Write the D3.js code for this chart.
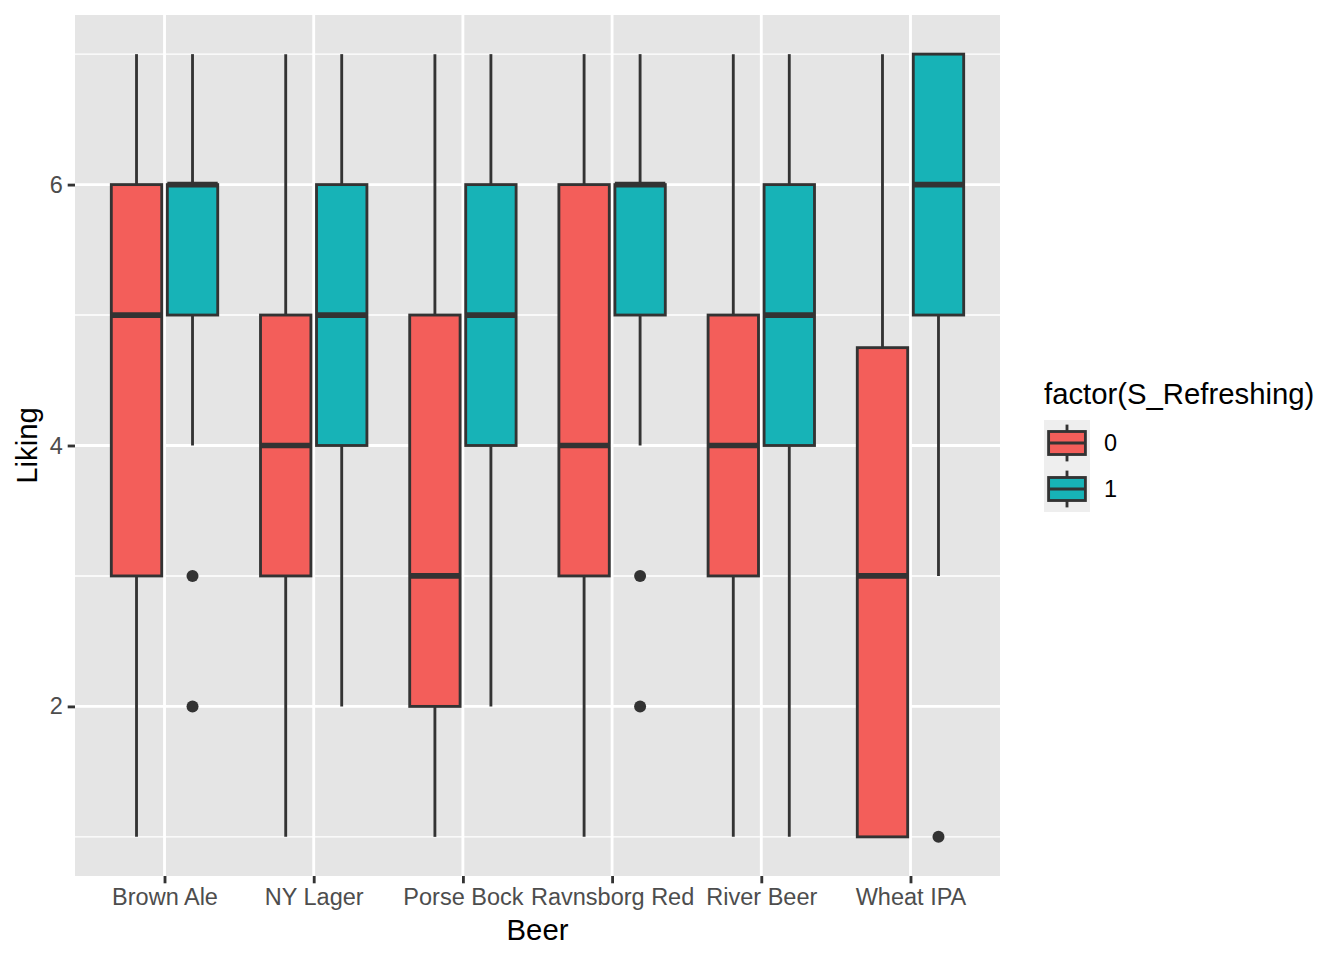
<!DOCTYPE html>
<html lang="en">
<head>
<meta charset="UTF-8">
<title>Liking by Beer</title>
<script src="https://cdn.jsdelivr.net/npm/d3@7"></script>
<style>
  body { margin: 0; background: #fff; }
  text { font-family: "Liberation Sans", Arial, sans-serif; }
</style>
</head>
<body>
<script>
// categories and groups
const beers = ["Brown Ale", "NY Lager", "Porse Bock", "Ravnsborg Red", "River Beer", "Wheat IPA"];
const groups = ["0", "1"];

// box stats per beer, group 0
const lower0 = [1, 1, 1, 1, 1, 1];
const q1_0 = [3, 3, 2, 3, 3, 1];
const med0 = [5, 4, 3, 4, 4, 3];
const q3_0 = [6, 5, 5, 6, 5, 4.75];
const upper0 = [7, 7, 7, 7, 7, 7];

// box stats per beer, group 1
const lower1 = [4, 2, 2, 4, 1, 3];
const q1_1 = [5, 4, 4, 5, 4, 5];
const med1 = [6, 5, 5, 6, 5, 6];
const q3_1 = [6, 6, 6, 6, 6, 7];
const upper1 = [7, 7, 7, 7, 7, 7];

// outliers
const outBeer = ["Brown Ale", "Brown Ale", "Ravnsborg Red", "Ravnsborg Red", "Wheat IPA"];
const outGroup = ["1", "1", "1", "1", "1"];
const outValue = [3, 2, 3, 2, 1];

const yMajor = [2, 4, 6];
const yMinor = [1, 3, 5, 7];
const fills = {"0": "#F35E5A", "1": "#17B3B7"};

// build box rows from the arrays
let boxes = [];
beers.forEach(function (b, i) {
    boxes.push({beer: b, g: "0", lo: lower0[i], q1: q1_0[i], med: med0[i], q3: q3_0[i], hi: upper0[i]});
    boxes.push({beer: b, g: "1", lo: lower1[i], q1: q1_1[i], med: med1[i], q3: q3_1[i], hi: upper1[i]});
});
let outliers = outValue.map(function (v, i) { return {beer: outBeer[i], g: outGroup[i], v: v}; });

const W = 1344, H = 960;
const pl = 75, pr = 1000, pt = 15, pb = 876;
const lw = 2.85;

let svg = d3.select('body').append('svg')
    .attr('width', W).attr('height', H);

let x = d3.scalePoint().domain(beers).range([pl, pr]).padding(0.6);
let xg = d3.scaleBand().domain(groups).range([-56, 56]);
let y = d3.scaleLinear().domain([0.7, 7.3]).range([pb, pt]);
let bw = xg.bandwidth() * 0.9;
let cx = function (d) { return x(d.beer) + xg(d.g) + xg.bandwidth() / 2; };

// panel
svg.append('rect')
    .attr('x', pl).attr('y', pt)
    .attr('width', pr - pl).attr('height', pb - pt)
    .attr('fill', '#E5E5E5');

// grid
svg.selectAll('line.minor').data(yMinor).enter().append('line')
    .attr('x1', pl).attr('x2', pr)
    .attr('y1', function (d) { return y(d); }).attr('y2', function (d) { return y(d); })
    .attr('stroke', '#fff').attr('stroke-width', lw / 2);
svg.selectAll('line.major').data(yMajor).enter().append('line')
    .attr('x1', pl).attr('x2', pr)
    .attr('y1', function (d) { return y(d); }).attr('y2', function (d) { return y(d); })
    .attr('stroke', '#fff').attr('stroke-width', lw);
svg.selectAll('line.xgrid').data(beers).enter().append('line')
    .attr('x1', function (d) { return x(d); }).attr('x2', function (d) { return x(d); })
    .attr('y1', pt).attr('y2', pb)
    .attr('stroke', '#fff').attr('stroke-width', lw);

// boxes
let bx = svg.selectAll('g.box').data(boxes).enter().append('g');
bx.append('line')
    .attr('x1', cx).attr('x2', cx)
    .attr('y1', function (d) { return y(d.hi); }).attr('y2', function (d) { return y(d.q3); })
    .attr('stroke', '#333').attr('stroke-width', lw);
bx.append('line')
    .attr('x1', cx).attr('x2', cx)
    .attr('y1', function (d) { return y(d.q1); }).attr('y2', function (d) { return y(d.lo); })
    .attr('stroke', '#333').attr('stroke-width', lw);
bx.append('rect')
    .attr('x', function (d) { return cx(d) - bw / 2; })
    .attr('y', function (d) { return y(d.q3); })
    .attr('width', bw)
    .attr('height', function (d) { return y(d.q1) - y(d.q3); })
    .attr('fill', function (d) { return fills[d.g]; })
    .attr('stroke', '#333').attr('stroke-width', lw);
bx.append('line')
    .attr('x1', function (d) { return cx(d) - bw / 2; })
    .attr('x2', function (d) { return cx(d) + bw / 2; })
    .attr('y1', function (d) { return y(d.med); }).attr('y2', function (d) { return y(d.med); })
    .attr('stroke', '#333').attr('stroke-width', lw * 2);

svg.selectAll('circle.out').data(outliers).enter().append('circle')
    .attr('cx', cx)
    .attr('cy', function (d) { return y(d.v); })
    .attr('r', 6)
    .attr('fill', '#333');

// axes
let yAxis = svg.append('g')
    .attr('transform', 'translate(' + pl + ',0)')
    .call(d3.axisLeft(y).tickValues(yMajor).tickSize(7.3).tickPadding(5).tickFormat(d3.format('d')));
let xAxis = svg.append('g')
    .attr('transform', 'translate(0,' + pb + ')')
    .call(d3.axisBottom(x).tickSize(7.3).tickPadding(5));
[xAxis, yAxis].forEach(function (a) {
    a.select('.domain').remove();
    a.selectAll('.tick line').attr('stroke', '#333').attr('stroke-width', lw);
    a.selectAll('.tick text').attr('fill', '#4D4D4D').style('font-size', '23.5px')
        .style('font-family', '"Liberation Sans", Arial, sans-serif');
});

svg.append('text')
    .attr('x', (pl + pr) / 2).attr('y', 940)
    .attr('text-anchor', 'middle')
    .style('font-size', '29.3px')
    .text('Beer');
svg.append('text')
    .attr('transform', 'translate(37,' + ((pt + pb) / 2) + ') rotate(-90)')
    .attr('text-anchor', 'middle')
    .style('font-size', '29.3px')
    .text('Liking');

// legend
let lg = svg.append('g').attr('transform', 'translate(1044,420)');
lg.append('text')
    .attr('x', 0).attr('y', -16)
    .style('font-size', '29.3px')
    .text('factor(S_Refreshing)');
let key = lg.selectAll('g.key').data(groups).enter().append('g')
    .attr('transform', function (d, i) { return 'translate(0,' + (i * 46) + ')'; });
key.append('rect').attr('width', 46).attr('height', 46).attr('fill', '#EEEEEE');
key.append('line').attr('x1', 23).attr('x2', 23).attr('y1', 4.6).attr('y2', 41.4)
    .attr('stroke', '#333').attr('stroke-width', lw);
key.append('rect').attr('x', 4.6).attr('y', 11.5).attr('width', 36.8).attr('height', 23)
    .attr('fill', function (d) { return fills[d]; })
    .attr('stroke', '#333').attr('stroke-width', lw);
key.append('line').attr('x1', 4.6).attr('x2', 41.4).attr('y1', 23).attr('y2', 23)
    .attr('stroke', '#333').attr('stroke-width', lw);
key.append('text')
    .attr('x', 60).attr('y', 23).attr('dy', '0.35em')
    .style('font-size', '23.5px')
    .text(function (d) { return d; });
</script>
</body>
</html>
